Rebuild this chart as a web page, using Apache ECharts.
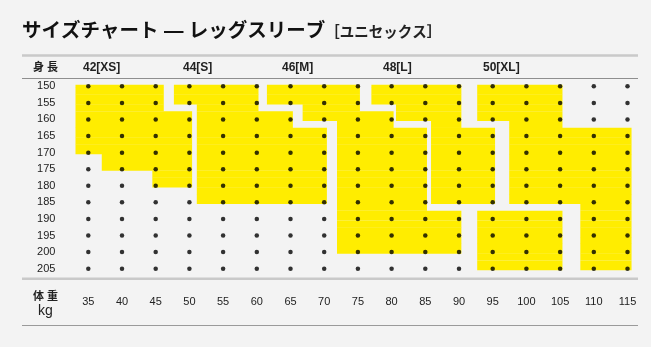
<!DOCTYPE html>
<html>
<head>
<meta charset="utf-8">
<script src="https://cdn.jsdelivr.net/npm/echarts@6/dist/echarts.min.js"></script>
<style>
  html, body { margin: 0; padding: 0; background: #ffffff; }
  #chart { width: 651px; height: 347px; }
</style>
</head>
<body>
<div id="chart"></div>
<script>
// ---- data ----
const weights = [35, 40, 45, 50, 55, 60, 65, 70, 75, 80, 85, 90, 95, 100, 105, 110, 115];
const heights = [150, 155, 160, 165, 170, 175, 180, 185, 190, 195, 200, 205];
const sizeLabels = ['42[XS]', '44[S]', '46[M]', '48[L]', '50[XL]'];

// each size area, row by row: [height cm, from kg, to kg] (area boundaries)
const xsRows = [[150, 33.1, 46.2], [155, 33.1, 46.2], [160, 33.1, 50.4], [165, 33.1, 50.4], [170, 33.1, 50.4], [175, 37.0, 50.4], [180, 44.5, 50.4]];
const sRows = [[150, 47.7, 60.25], [155, 47.7, 60.25], [160, 51.1, 65.35], [165, 51.1, 70.4], [170, 51.1, 70.4], [175, 51.1, 70.4], [180, 51.1, 70.4], [185, 51.1, 70.4]];
const mRows = [[150, 61.5, 75.3], [155, 61.5, 75.3], [160, 66.8, 80.3], [165, 71.9, 85.25], [170, 71.9, 85.25], [175, 71.9, 85.25], [180, 71.9, 85.25], [185, 71.9, 85.25], [190, 71.9, 90.35], [195, 71.9, 90.35], [200, 71.9, 90.35]];
const lRows = [[150, 77.0, 90.35], [155, 77.0, 90.35], [160, 80.65, 90.35], [165, 85.85, 95.35], [170, 85.85, 95.35], [175, 85.85, 95.35], [180, 85.85, 95.35], [185, 85.85, 95.35]];
const lLowerRows = [[190, 92.7, 105.35], [195, 92.7, 105.35], [200, 92.7, 105.35], [205, 92.7, 105.35]];
const xlRows = [[150, 92.7, 105.35], [155, 92.7, 105.35], [160, 92.7, 105.35], [165, 97.45, 115.6], [170, 97.45, 115.6], [175, 97.45, 115.6], [180, 97.45, 115.6], [185, 97.45, 115.6], [190, 108.0, 115.6], [195, 108.0, 115.6], [200, 108.0, 115.6], [205, 108.0, 115.6]];

// ---- build ----
const FONT = "'Liberation Sans', 'Noto Sans CJK JP', sans-serif";
const blocks = [xsRows, sRows, mRows, lRows, lLowerRows, xlRows];
const areaData = [];
blocks.forEach(rows => {
  rows.forEach((r, i) => {
    const next = rows[i + 1];
    areaData.push([r[1], r[2], r[0], next ? next[1] : NaN, next ? next[2] : NaN]);
  });
});
const dotData = [];
heights.forEach(h => weights.forEach(w => dotData.push([w, h])));

function renderArea(params, api) {
  const from = api.value(0), to = api.value(1), h = api.value(2);
  const nf = api.value(3), nt = api.value(4);
  const top = h === heights[0] ? h - 0.5 : h - 2.5;
  const bottom = h + 0.5;
  const a = api.coord([from, top]);
  const b = api.coord([to, bottom]);
  const style = { fill: '#ffed00' };
  const children = [{
    type: 'rect',
    shape: { x: a[0], y: Math.min(a[1], b[1]), width: b[0] - a[0], height: Math.abs(b[1] - a[1]) },
    style: style
  }];
  if (!isNaN(nf)) {
    const l = Math.max(from, nf), r = Math.min(to, nt);
    if (r > l) {
      const c = api.coord([l, bottom]);
      const d = api.coord([r, h + 2.5]);
      children.push({
        type: 'rect',
        shape: { x: c[0], y: Math.min(c[1], d[1]) - 0.2, width: d[0] - c[0], height: Math.abs(d[1] - c[1]) + 0.4 },
        style: style
      });
    }
  }
  return { type: 'group', children: children };
}

const headerX = [83, 183, 282, 383, 483];
const graphics = [
  { type: 'rect', left: 22, top: 54.3, shape: { width: 616, height: 2.5 }, style: { fill: '#c9c9c9' } },
  { type: 'rect', left: 22, top: 78, shape: { width: 616, height: 1 }, style: { fill: '#8e8e8e' } },
  { type: 'rect', left: 22, top: 277.6, shape: { width: 616, height: 2.5 }, style: { fill: '#c9c9c9' } },
  { type: 'rect', left: 22, top: 325, shape: { width: 616, height: 1 }, style: { fill: '#9a9a9a' } },
  { type: 'text', x: 45.5, y: 67.5, style: { text: '身 長', font: 'bold 11px ' + FONT, fill: '#222', textAlign: 'center', textVerticalAlign: 'middle' } },
  { type: 'text', x: 45.5, y: 297, style: { text: '体 重', font: 'bold 11px ' + FONT, fill: '#222', textAlign: 'center', textVerticalAlign: 'middle' } },
  { type: 'text', x: 45.5, y: 311, style: { text: 'kg', font: '14px ' + FONT, fill: '#222', textAlign: 'center', textVerticalAlign: 'middle' } }
];
sizeLabels.forEach((s, i) => {
  graphics.push({ type: 'text', x: headerX[i], y: 67.5, style: { text: s, font: 'bold 12px ' + FONT, fill: '#222', textAlign: 'left', textVerticalAlign: 'middle' } });
});

const chart = echarts.init(document.getElementById('chart'), null, { renderer: 'canvas' });
chart.setOption({
  backgroundColor: '#f3f3f3',
  animation: false,
  title: {
    left: 22, top: 22, padding: 0,
    text: '{a|サイズチャート — レッグスリーブ}{b|［ユニセックス］}',
    textStyle: {
      rich: {
        a: { fontFamily: FONT, fontSize: 19.5, fontWeight: 'bold', color: '#111' },
        b: { fontFamily: FONT, fontSize: 14.5, color: '#222', padding: [3, 0, 0, 0] }
      }
    }
  },
  grid: { left: 88.3, right: 23.5, top: 86.3, bottom: 78.3 },
  xAxis: {
    type: 'value', min: 35, max: 115, interval: 5,
    axisLine: { show: false }, axisTick: { show: false }, splitLine: { show: false },
    axisLabel: { margin: 28, fontSize: 11, color: '#222', fontFamily: FONT }
  },
  yAxis: {
    type: 'value', inverse: true, min: 150, max: 205, interval: 5,
    axisLine: { show: false }, axisTick: { show: false }, splitLine: { show: false },
    axisLabel: { margin: 42, align: 'center', fontSize: 11, color: '#222', fontFamily: FONT }
  },
  graphic: graphics,
  series: [
    { type: 'custom', renderItem: renderArea, data: areaData, clip: false, silent: true, z: 1 },
    { type: 'scatter', data: dotData, symbolSize: 4.5, itemStyle: { color: '#000' }, silent: true, z: 3 }
  ]
});
</script>
</body>
</html>
